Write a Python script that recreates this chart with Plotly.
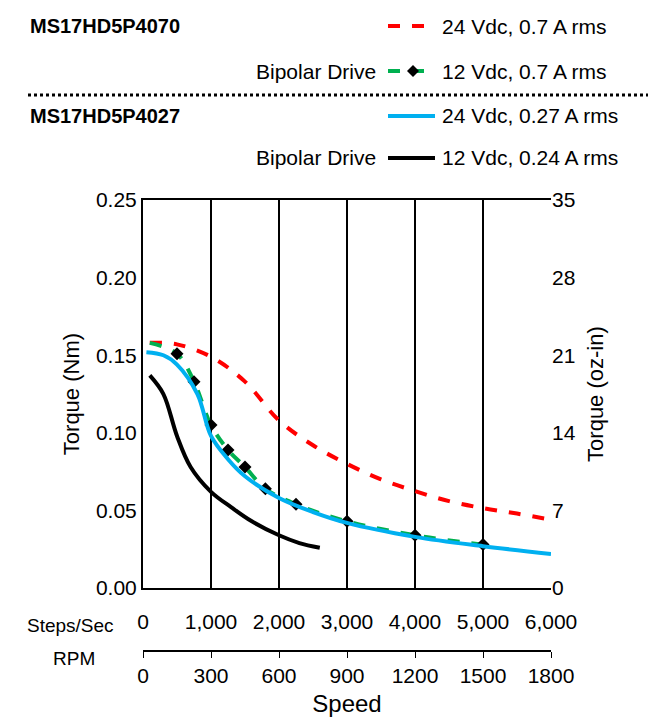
import plotly.graph_objects as go

# Torque curves, x in steps/sec, y in Nm
red_x = [100, 500, 1000, 1500, 2000, 2500, 3000, 3500, 4000, 4500, 5000, 5500, 6000]
red_y = [0.158, 0.157, 0.149, 0.133, 0.108, 0.092, 0.080, 0.070, 0.0625, 0.056, 0.0515, 0.048, 0.044]

green_x = [100, 500, 750, 1000, 1250, 1500, 1800, 2250, 3000, 4000, 5000]
green_y = [0.158, 0.151, 0.133, 0.105, 0.089, 0.078, 0.064, 0.054, 0.043, 0.034, 0.028]

blue_x = [50, 300, 500, 800, 1000, 1250, 1500, 2000, 2500, 3000, 4000, 5000, 6000]
blue_y = [0.152, 0.150, 0.144, 0.125, 0.098, 0.083, 0.072, 0.058, 0.049, 0.042, 0.033, 0.027, 0.022]

black_x = [100, 300, 500, 700, 1000, 1300, 1600, 2000, 2300, 2600]
black_y = [0.137, 0.125, 0.098, 0.078, 0.062, 0.052, 0.043, 0.034, 0.029, 0.026]

steps_ticks = [0, 1000, 2000, 3000, 4000, 5000, 6000]
rpm_ticks = [0, 300, 600, 900, 1200, 1500, 1800]
nm_ticks = [0, 0.05, 0.10, 0.15, 0.20, 0.25]
ozin_ticks = [0, 7, 14, 21, 28, 35]

FONT = "Liberation Sans, Arial, sans-serif"
W, H, ML, MR = 663, 726, 135, 120
PW = W - ML - MR


def px(x):
    return (x - ML) / PW


def py(y):
    return 1 - y / H


fig = go.Figure()
fig.add_trace(go.Scatter(x=red_x, y=red_y, mode="lines", line=dict(color="#ff0000", width=4, dash="dash", shape="spline")))
fig.add_trace(go.Scatter(x=green_x, y=green_y, mode="lines", line=dict(color="#00b050", width=4, dash="dash", shape="spline")))
fig.add_trace(go.Scatter(x=green_x[1:], y=green_y[1:], mode="markers", marker=dict(symbol="diamond", color="black", size=10)))
fig.add_trace(go.Scatter(x=blue_x, y=blue_y, mode="lines", line=dict(color="#00b0f0", width=4, shape="spline")))
fig.add_trace(go.Scatter(x=black_x, y=black_y, mode="lines", line=dict(color="black", width=4, shape="spline")))
# invisible traces to activate the secondary axes
fig.add_trace(go.Scatter(x=[0], y=[0], yaxis="y2", mode="markers", marker=dict(opacity=0), hoverinfo="skip"))
fig.add_trace(go.Scatter(x=[0], y=[0], xaxis="x2", mode="markers", marker=dict(opacity=0), hoverinfo="skip"))

tickfont = dict(family=FONT, size=21, color="black")
fig.update_layout(
    width=W, height=H,
    margin=dict(l=ML, r=MR, t=0, b=0),
    paper_bgcolor="white", plot_bgcolor="white",
    showlegend=False,
    font=dict(family=FONT, color="black"),
    xaxis=dict(range=[0, 6000], tickvals=steps_ticks, ticktext=[f"{v:,}" for v in steps_ticks],
               showgrid=True, gridcolor="black", gridwidth=2, showline=True, linecolor="black", linewidth=2,
               mirror=True, ticks="", tickfont=tickfont, ticklabelstandoff=14, zeroline=False, automargin=False),
    xaxis2=dict(range=[0, 1800], tickvals=rpm_ticks, overlaying="x", side="bottom", anchor="free",
                position=0.114, showline=True, linecolor="black", linewidth=1.5, ticks="outside",
                ticklen=6, tickcolor="black", tickfont=tickfont, showgrid=False, zeroline=False, automargin=False,
                title=dict(text="Speed", font=dict(family=FONT, size=24), standoff=8)),
    yaxis=dict(domain=[0.201, 0.7355], range=[0, 0.25], tickvals=nm_ticks, automargin=False,
               ticktext=[f"{v:.2f}" for v in nm_ticks], showgrid=False, showline=True, linecolor="black",
               linewidth=2, ticks="", tickfont=tickfont, zeroline=False,
               title=dict(text="Torque (Nm)", font=dict(family=FONT, size=22), standoff=10)),
    yaxis2=dict(range=[0, 35], tickvals=ozin_ticks, overlaying="y", side="right", showgrid=False,
                ticks="", tickfont=tickfont, zeroline=False, automargin=False,
                title=dict(text="Torque (oz-in)", font=dict(family=FONT, size=22), standoff=12)),
)

# header / custom legend
anns = [
    (20, 18, "<b>MS17HD5P4070</b>", "left", 20),
    (20, 108, "<b>MS17HD5P4027</b>", "left", 20),
    (370, 63, "Bipolar Drive", "right", 21),
    (370, 150, "Bipolar Drive", "right", 21),
    (432, 18, "24 Vdc, 0.7 A rms", "left", 21),
    (432, 63, "12 Vdc, 0.7 A rms", "left", 21),
    (432, 108, "24 Vdc, 0.27 A rms", "left", 21),
    (432, 150, "12 Vdc, 0.24 A rms", "left", 21),
    (62, 617, "Steps/Sec", "center", 19),
    (66, 650, "RPM", "center", 19),
]
for x, y, text, anchor, size in anns:
    fig.add_annotation(x=px(x), y=py(y), xref="paper", yref="paper", text=text,
                       showarrow=False, xanchor=anchor, yanchor="middle",
                       font=dict(family=FONT, size=size, color="black"))

legend_lines = [
    (18, "#ff0000", "dash"), (63, "#00b050", "dash"), (108, "#00b0f0", "solid"), (150, "black", "solid"),
]
for yy, col, dash in legend_lines:
    fig.add_shape(type="line", xref="paper", yref="paper", x0=px(380), x1=px(427),
                  y0=py(yy), y1=py(yy), line=dict(color=col, width=4, dash=dash))
fig.add_shape(type="path", xref="paper", yref="paper",
              path=f"M {px(405)} {py(57)} L {px(411)} {py(63)} L {px(405)} {py(69)} L {px(399)} {py(63)} Z",
              fillcolor="black", line=dict(color="black", width=0))
fig.add_shape(type="line", xref="paper", yref="paper", x0=px(20), x1=px(640),
              y0=py(87), y1=py(87), line=dict(color="black", width=3, dash="dot"))

fig.write_html("out.html")
